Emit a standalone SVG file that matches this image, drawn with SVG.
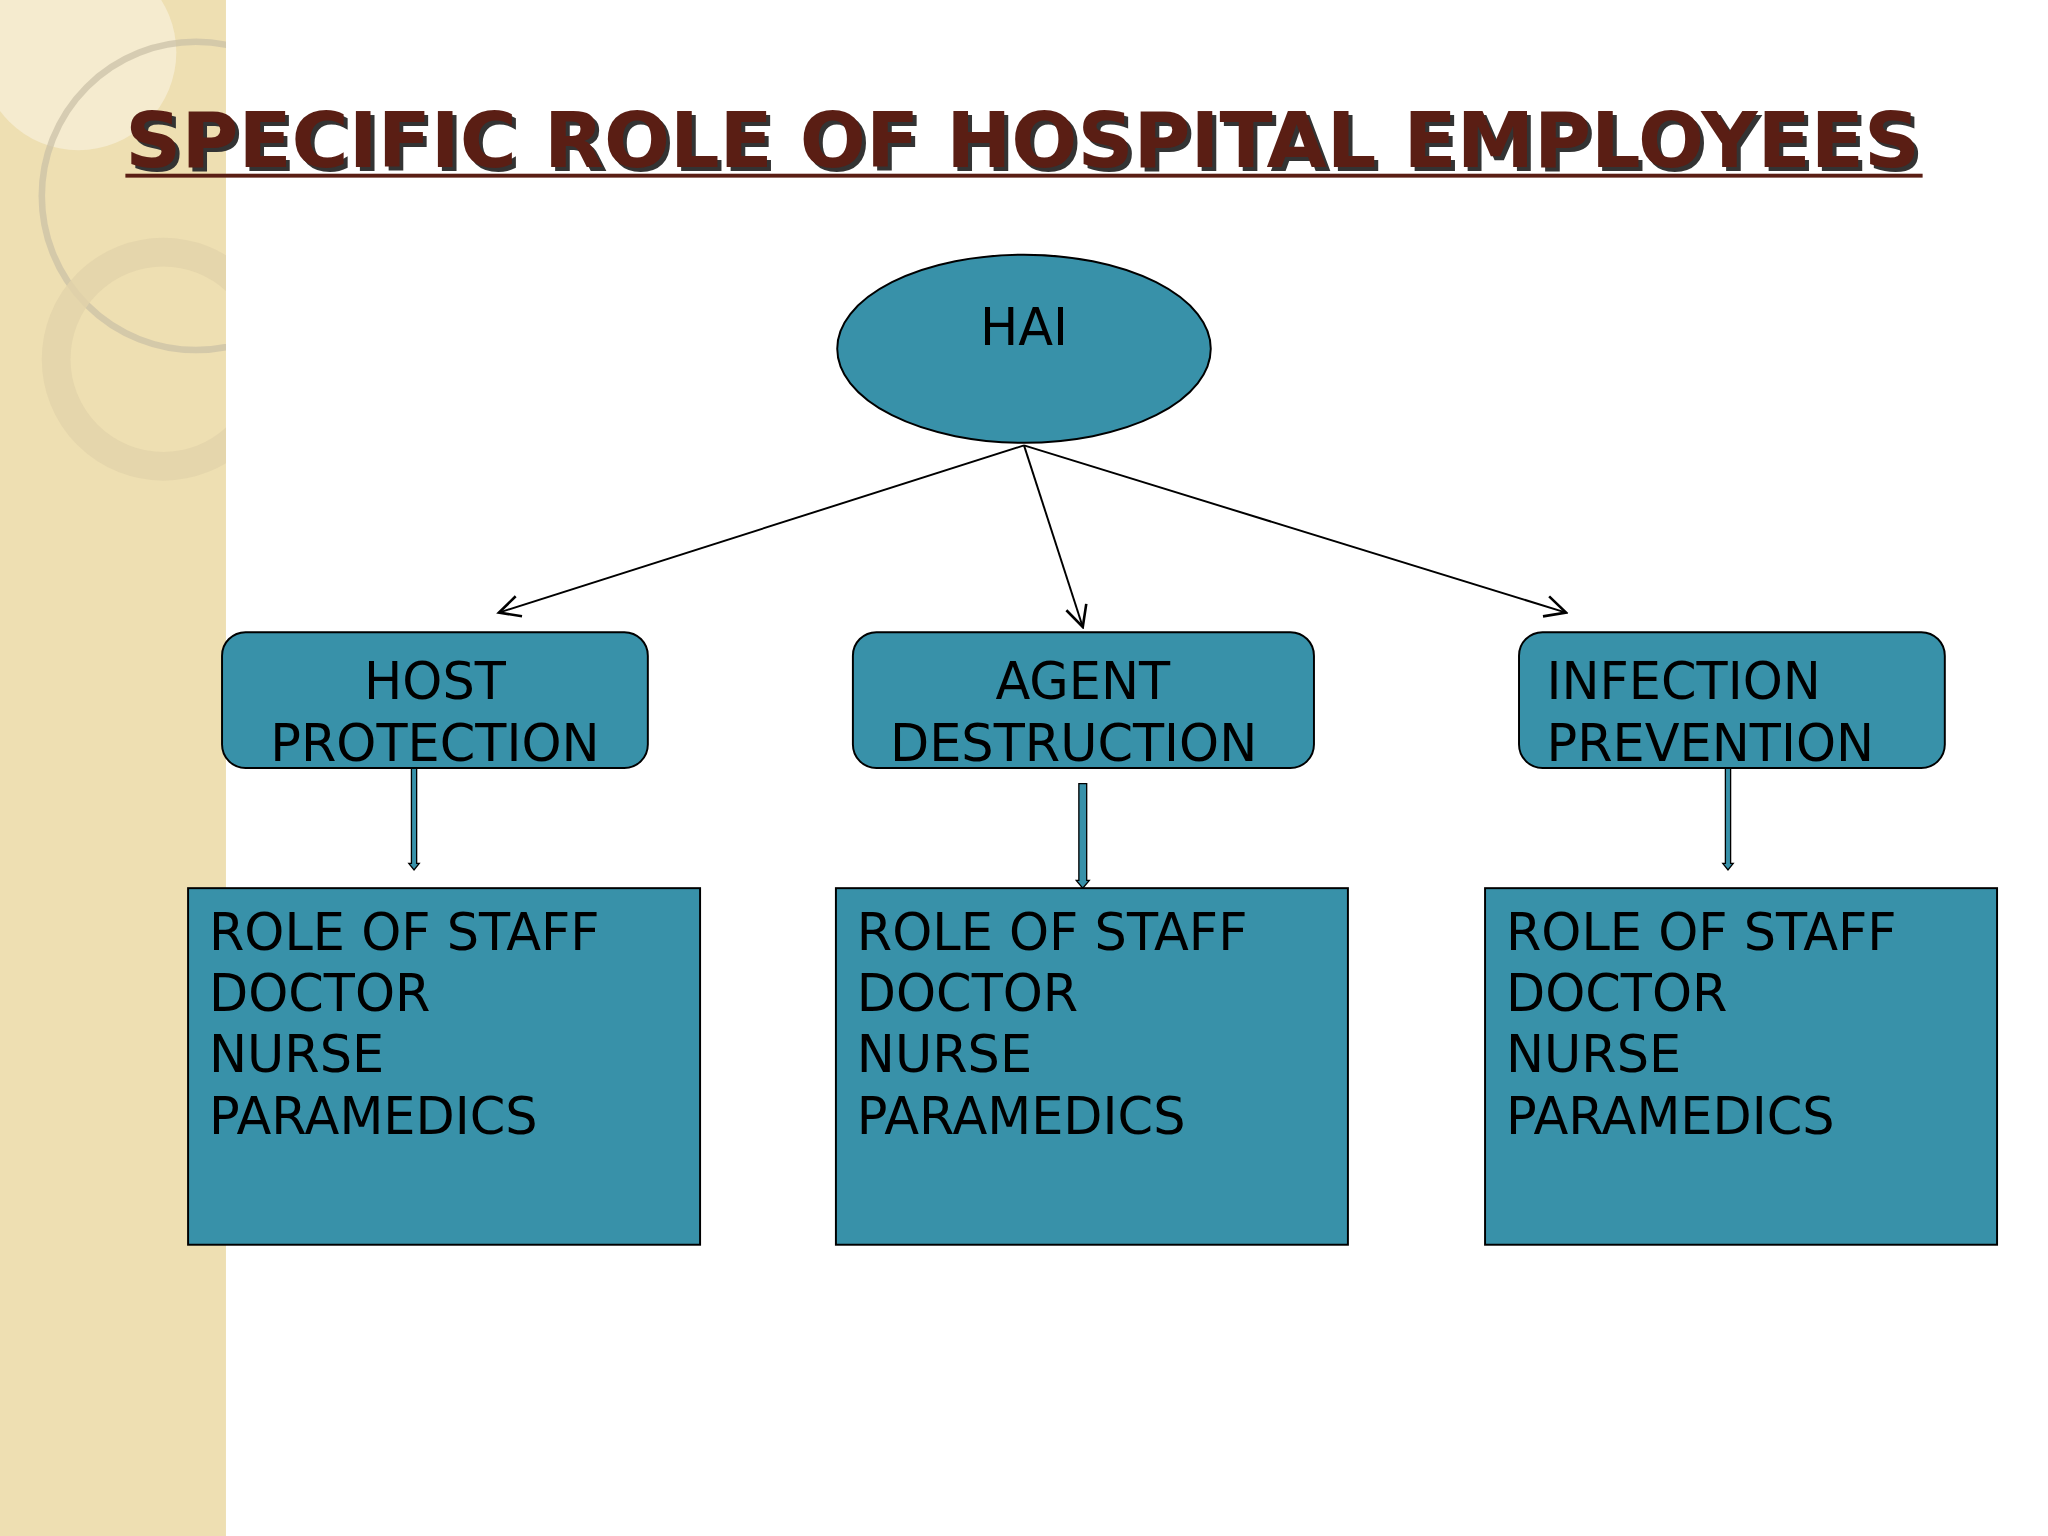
<svg xmlns="http://www.w3.org/2000/svg" width="2048" height="1536" viewBox="0 0 2048 1536">
<style>
.t{font-family:"DejaVu Sans",Verdana,sans-serif;font-size:39px;fill:#000}
.n{fill:#3891A9;stroke:#000;stroke-width:1.5}
.c{stroke:#000;stroke-width:1.5;fill:none}
</style>
<defs><marker id="a" viewBox="0 0 20 20" refX="18" refY="10" markerWidth="20" markerHeight="20" markerUnits="userSpaceOnUse" orient="auto"><path d="M2,2 L18,10 L2,18" fill="none" stroke="#000" stroke-width="2"/></marker>
<clipPath id="cl"><rect x="0" y="0" width="173" height="1176"/></clipPath></defs>
<rect width="2048" height="1536" fill="#fff"/>
<g transform="scale(1.30612)">
<g id="bg">
<rect x="0" y="0" width="173" height="1176" fill="#EEDFB2"/>
<g clip-path="url(#cl)">
<circle cx="60" cy="40" r="75" fill="#F6EDD6" opacity="0.8"/>
<circle cx="150" cy="150" r="118" fill="none" stroke="#C9BFA5" stroke-width="5" opacity="0.7"/>
<circle cx="125" cy="275" r="82" fill="none" stroke="#E2D3AA" stroke-width="22" opacity="0.8"/>
</g>
</g>
<g id="title">
<text x="99" y="131" font-family="'DejaVu Sans',Verdana,sans-serif" font-weight="bold" font-size="58" fill="#333" textLength="1374" lengthAdjust="spacingAndGlyphs">SPECIFIC ROLE OF HOSPITAL EMPLOYEES</text>
<text x="96" y="128" font-family="'DejaVu Sans',Verdana,sans-serif" font-weight="bold" font-size="58" fill="#5A1E14" textLength="1374" lengthAdjust="spacingAndGlyphs">SPECIFIC ROLE OF HOSPITAL EMPLOYEES</text>
<rect x="96" y="133" width="1376" height="3" fill="#5A1E14"/>
</g>
<g id="connectors">
<line class="c" x1="784" y1="341" x2="382" y2="469" marker-end="url(#a)"/>
<line class="c" x1="784" y1="341" x2="829" y2="480" marker-end="url(#a)"/>
<line class="c" x1="784" y1="341" x2="1199" y2="469" marker-end="url(#a)"/>
<path d="M315,588 h4 v73 h2 l-4,5 l-4,-5 h2 z" fill="#3891A9" stroke="#000" stroke-width="1"/>
<path d="M826,600 h6 v74 h2 l-5,6 l-5,-6 h2 z" fill="#3891A9" stroke="#000" stroke-width="1"/>
<path d="M1321,588 h4 v73 h2 l-4,5 l-4,-5 h2 z" fill="#3891A9" stroke="#000" stroke-width="1"/>
</g>
<g id="hai"><ellipse class="n" cx="784" cy="267" rx="143" ry="72"/><text class="t" x="784" y="264" text-anchor="middle">HAI</text></g>
<g id="host"><rect class="n" x="170" y="484" width="326" height="104" rx="18"/><text class="t" x="333" y="535" text-anchor="middle">HOST</text><text class="t" x="333" y="583" text-anchor="middle">PROTECTION</text></g>
<g id="agent"><rect class="n" x="653" y="484" width="353" height="104" rx="18"/><text class="t" x="829" y="535" text-anchor="middle">AGENT</text><text class="t" x="822" y="583" text-anchor="middle">DESTRUCTION</text></g>
<g id="infection"><rect class="n" x="1163" y="484" width="326" height="104" rx="18"/><text class="t" x="1184" y="535">INFECTION</text><text class="t" x="1184" y="583">PREVENTION</text></g>
<g id="staff1"><rect class="n" x="144" y="680" width="392" height="273"/><text class="t" x="160" y="727">ROLE OF STAFF</text><text class="t" x="160" y="774">DOCTOR</text><text class="t" x="160" y="821">NURSE</text><text class="t" x="160" y="868">PARAMEDICS</text></g>
<g id="staff2"><rect class="n" x="640" y="680" width="392" height="273"/><text class="t" x="656" y="727">ROLE OF STAFF</text><text class="t" x="656" y="774">DOCTOR</text><text class="t" x="656" y="821">NURSE</text><text class="t" x="656" y="868">PARAMEDICS</text></g>
<g id="staff3"><rect class="n" x="1137" y="680" width="392" height="273"/><text class="t" x="1153" y="727">ROLE OF STAFF</text><text class="t" x="1153" y="774">DOCTOR</text><text class="t" x="1153" y="821">NURSE</text><text class="t" x="1153" y="868">PARAMEDICS</text></g>
</g>
</svg>
